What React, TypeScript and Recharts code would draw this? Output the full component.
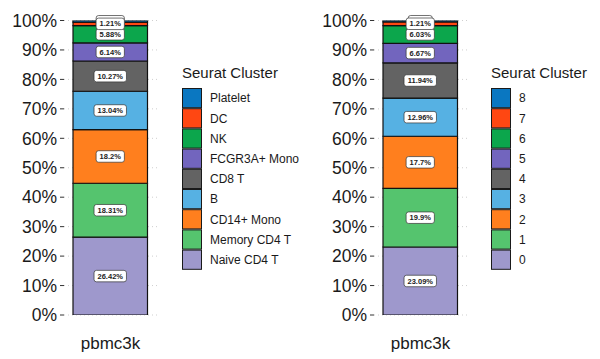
import React from 'react';
import { BarChart, Bar, XAxis, YAxis, CartesianGrid, LabelList } from 'recharts';

const sampleNames = ['pbmc3k'];
const cellTypes = ['Naive CD4 T', 'Memory CD4 T', 'CD14+ Mono', 'B', 'CD8 T', 'FCGR3A+ Mono', 'NK', 'DC', 'Platelet'];
const clusterIds = ['0', '1', '2', '3', '4', '5', '6', '7', '8'];
const cellTypePct = [26.42, 18.31, 18.2, 13.04, 10.27, 6.14, 5.88, 1.21, 0.53];
const clusterPct = [23.09, 19.9, 17.7, 12.96, 11.94, 6.67, 6.03, 1.21, 0.5];
const palette = ['#9E98CC', '#55C46E', '#FF7F1E', '#56B1E3', '#636363', '#7265BE', '#0CA64C', '#FF4712', '#0A77C1'];
const yTicks = [0, 10, 20, 30, 40, 50, 60, 70, 80, 90, 100];
const legendTitle = 'Seurat Cluster';

const FONT = '"Liberation Sans", Arial, Helvetica, sans-serif';
const CHART_W = 157;
const CHART_H = 359;
const MARGIN = { top: 20.5, right: 0, bottom: 0, left: 0 };

const charW = (ch: string) => {
  if (ch === '.') return 0.278;
  if (ch === '%') return 0.889;
  return 0.556;
};

// showText=false: the label box is drawn but its text is fully hidden under the next label in the reference
const makeLabel = (value: number, showText: boolean) => (props: any) => {
  const vb = props.viewBox || {};
  const x = Number(props.x ?? vb.x);
  const y = Number(props.y ?? vb.y);
  const w = Number(props.width ?? vb.width);
  const h = Number(props.height ?? vb.height);
  const cx = x + w / 2;
  const cy = y + h / 2;
  const text = `${value}%`;
  const fs = 7.5;
  const tw = text.split('').reduce((s, c) => s + charW(c), 0) * fs;
  const bw = tw + 7;
  const bh = 11.5;
  return (
    <g>
      <rect x={cx - bw / 2} y={cy - bh / 2} width={bw} height={bh} rx={2.5} ry={2.5} fill="#ffffff" stroke="#333333" strokeWidth={0.7} />
      {showText ? (
        <text x={cx} y={cy} dy="0.35em" textAnchor="middle" fontSize={fs} fontWeight="bold" fill="#222222" fontFamily={FONT}>
          {text}
        </text>
      ) : null}
    </g>
  );
};

function buildRows(values: number[]) {
  return sampleNames.map((s) => {
    const row: Record<string, any> = { sample: s };
    values.forEach((v, i) => {
      row[`k${i}`] = v;
    });
    return row;
  });
}

function Legend({ x, names }: { x: number; names: string[] }) {
  const order = names.map((_, i) => i).reverse();
  return (
    <svg width={600} height={359} style={{ position: 'absolute', left: 0, top: 0, pointerEvents: 'none' }}>
      <text x={x} y={78.3} fontSize={15} fill="#1a1a1a" fontFamily={FONT}>
        {legendTitle}
      </text>
      {order.map((idx, row) => {
        const top = 88.5 + row * 20.2;
        return (
          <g key={idx}>
            <rect x={x + 0.5} y={top} width={19} height={19.2} fill={palette[idx]} stroke="#1a1a1a" strokeWidth={1} />
            <text x={x + 28} y={top + 9.6} dy="0.355em" fontSize={12} fill="#1a1a1a" fontFamily={FONT}>
              {names[idx]}
            </text>
          </g>
        );
      })}
    </svg>
  );
}

function Panel({ left, values, names, legendX }: { left: number; values: number[]; names: string[]; legendX: number }) {
  const data = buildRows(values);
  const last = values.length - 1;
  return (
    <>
      <div style={{ position: 'absolute', left, top: 0 }}>
        <BarChart width={CHART_W} height={CHART_H} data={data} margin={MARGIN} barCategoryGap={0}>
          <CartesianGrid horizontal vertical={false} stroke="#cfcfcf" strokeDasharray="1 3" />
          <XAxis
            dataKey="sample"
            axisLine={false}
            tickLine={false}
            tickMargin={16}
            height={44}
            tick={{ fontSize: 17, fill: '#1a1a1a', fontFamily: FONT }}
          />
          <YAxis
            type="number"
            domain={[0, 100]}
            ticks={yTicks}
            interval={0}
            allowDataOverflow
            width={64}
            axisLine={false}
            tickLine={{ stroke: '#333333', strokeWidth: 1 }}
            tickSize={4}
            tickMargin={3}
            tickFormatter={(v: number) => `${v}%`}
            tick={{ fontSize: 17.5, fill: '#1a1a1a', fontFamily: FONT }}
          />
          {values.map((_, i) => (
            <Bar
              key={i}
              dataKey={`k${i}`}
              stackId="a"
              fill={palette[i]}
              stroke="#111111"
              strokeWidth={1.2}
              barSize={74.5}
              isAnimationActive={false}
            >
              {i === last ? <LabelList dataKey={`k${i}`} content={makeLabel(values[i], false)} /> : null}
            </Bar>
          ))}
        </BarChart>
      </div>
      <div style={{ position: 'absolute', left, top: 0 }}>
        <BarChart width={CHART_W} height={CHART_H} data={data} margin={{ top: 20.5, right: 0, bottom: 44, left: 64 }} barCategoryGap={0}>
          <XAxis dataKey="sample" hide />
          <YAxis type="number" domain={[0, 100]} ticks={yTicks} allowDataOverflow hide />
          {values.map((_, i) => (
            <Bar
              key={i}
              dataKey={`k${i}`}
              stackId="a"
              fill="transparent"
              stroke="none"
              barSize={74.5}
              isAnimationActive={false}
            >
              {i !== last ? <LabelList dataKey={`k${i}`} content={makeLabel(values[i], true)} /> : null}
            </Bar>
          ))}
        </BarChart>
      </div>
      <Legend x={legendX} names={names} />
    </>
  );
}

export default function App() {
  return (
    <div style={{ position: 'absolute', left: 0, top: 0, width: 600, height: 359, background: '#ffffff', fontFamily: FONT }}>
      <Panel left={0} values={cellTypePct} names={cellTypes} legendX={182} />
      <Panel left={310} values={clusterPct} names={clusterIds} legendX={491} />
    </div>
  );
}
